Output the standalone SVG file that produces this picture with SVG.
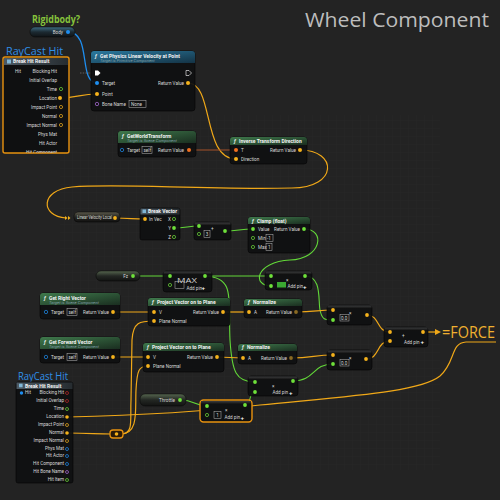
<svg xmlns="http://www.w3.org/2000/svg" width="500" height="500" viewBox="0 0 500 500">
<defs>
<style>
.n{fill:#0f1011;fill-opacity:.93;stroke:#050505;stroke-width:.6}
.sel{fill:#0f1011;stroke:#e8920f;stroke-width:1.4}
.t{font-family:"Roboto","Liberation Sans",sans-serif;font-size:4.6px;fill:#d8d8d8}
.h{font-family:"Roboto","Liberation Sans",sans-serif;font-size:5px;font-weight:bold;fill:#f4f4f4}
.s{font-family:"Roboto","Liberation Sans",sans-serif;font-size:4.2px;font-style:italic;fill:#7f9fa5}
.r{text-anchor:end}
.box{fill:none;stroke:#bbb;stroke-width:.5}
.wy{fill:none;stroke:#f0a818;stroke-width:1.2}
.wg{fill:none;stroke:#62d838;stroke-width:1.1}
.wb{fill:none;stroke:#1e8ef0;stroke-width:1.3}
.wo{fill:none;stroke:#a5522a;stroke-width:1.1}
.py{fill:#f5b21c}.pg{fill:#6ee03a}.pb{fill:#1e8ef0}.po{fill:#f07020}
.hy{fill:none;stroke:#f5b21c;stroke-width:.7}
.hg{fill:none;stroke:#6ee03a;stroke-width:.7}
.hb{fill:none;stroke:#1e8ef0;stroke-width:.7}
.hr{fill:none;stroke:#c02828;stroke-width:.7}
.hp{fill:none;stroke:#b070e0;stroke-width:.7}
.plus{font-family:"Liberation Sans",sans-serif;font-size:6px;font-weight:bold;fill:#fff}
</style>
<linearGradient id="gGreen" x1="0" y1="0" x2="1" y2="1"><stop offset="0" stop-color="#3f7a4c"/><stop offset="1" stop-color="#1a2e20"/></linearGradient>
<linearGradient id="gBlue" x1="0" y1="0" x2="1" y2="1"><stop offset="0" stop-color="#2b7aa0"/><stop offset="1" stop-color="#143345"/></linearGradient>
<linearGradient id="gGrey" x1="0" y1="0" x2="1" y2="0"><stop offset="0" stop-color="#4d5a64"/><stop offset="1" stop-color="#262c30"/></linearGradient>
<linearGradient id="gCompact" x1="0" y1="0" x2="0" y2="1"><stop offset="0" stop-color="#3c3d3e"/><stop offset="1" stop-color="#111"/></linearGradient>
<linearGradient id="gVarG" x1="0" y1="0" x2="0" y2="1"><stop offset="0" stop-color="#56664f"/><stop offset=".5" stop-color="#232723"/><stop offset="1" stop-color="#121312"/></linearGradient>
<linearGradient id="gVarB" x1="0" y1="0" x2="0" y2="1"><stop offset="0" stop-color="#3e6c82"/><stop offset=".5" stop-color="#1c2a32"/><stop offset="1" stop-color="#101315"/></linearGradient>
<linearGradient id="gVarY" x1="0" y1="0" x2="0" y2="1"><stop offset="0" stop-color="#5c5a4c"/><stop offset=".5" stop-color="#262520"/><stop offset="1" stop-color="#121212"/></linearGradient>
<pattern id="grid" width="8" height="8" patternUnits="userSpaceOnUse"><path d="M8 0H0V8" fill="none" stroke="#2c2c2c" stroke-width=".5"/></pattern>
<marker id="ah" viewBox="0 0 6 6" refX="3" refY="3" markerWidth="5" markerHeight="5" orient="auto"><path d="M0 0L6 3L0 6z" fill="#f0a818"/></marker>
<clipPath id="clipTop"><rect x="3" y="57" width="66" height="96"/></clipPath>
</defs>
<rect width="500" height="500" fill="#232323"/>
<rect x="60" y="115" width="380" height="355" fill="url(#grid)" opacity=".8"/>

<!-- titles -->
<text x="305" y="27" font-family="Open Sans, Noto Sans, sans-serif" font-size="20" fill="#bdbdbd" textLength="184" lengthAdjust="spacingAndGlyphs">Wheel Component</text>
<text x="32" y="23" font-family="Open Sans, Noto Sans, sans-serif" font-size="11" font-weight="bold" fill="#86c43c" textLength="48" lengthAdjust="spacingAndGlyphs">Rigidbody?</text>
<text x="6" y="55" font-family="Open Sans, Noto Sans, sans-serif" font-size="11.5" fill="#2f8ee6" textLength="57" lengthAdjust="spacingAndGlyphs">RayCast Hit</text>
<text x="18" y="380" font-family="Open Sans, Noto Sans, sans-serif" font-size="10.5" fill="#2f8ee6" textLength="50" lengthAdjust="spacingAndGlyphs">RayCast Hit</text>
<text x="442" y="338" font-family="Open Sans, Noto Sans, sans-serif" font-size="16" fill="#f0b030" textLength="53" lengthAdjust="spacingAndGlyphs">=FORCE</text>

<!-- connectors -->
<g id="connectors">
<path class="wb" d="M68,32 C92,32 78,83 97,83"/>
<path d="M80,73 L93,73" stroke="#888" stroke-width=".6" stroke-dasharray="1.5,1.2" fill="none"/>
<path class="wy" d="M60,98 C78,98 80,94 97,94"/>
<path class="wy" d="M188,83 C214,83 202,159 236,159"/>
<path class="wo" d="M189,150 L236,150"/>
<path class="wy" d="M300,150 C338,150 338,188 292,188 C200,190 120,183 72,187 C40,190 40,216 66,218"/>
<path class="wy" d="M115,218 C130,218 132,219 145,219"/>
<path class="wg" d="M174,228 C186,228 188,226 199,226"/>
<path class="wg" d="M225,231 C238,231 240,229 253,229"/>
<path class="wg" d="M304,229 C326,229 322,259 290,260 C255,262 252,286 271,286"/>
<path class="wg" d="M133,276 L170,276"/>
<path class="wg" d="M205,276 L271,276"/>
<path class="wg" d="M205,276 C236,277 228,300 230,340 C232,372 236,382 255,382"/>
<path class="wg" d="M305,276 C322,276 318,300 320,310 C322,320 325,320 333,320"/>
<path class="wg" d="M293,381 C315,381 312,364 333,364"/>
<path class="wg" d="M180,400 C195,400 195,406 207,406"/>
<path class="wg" d="M245,405 C252,405 248,392 255,392"/>
<path class="wy" d="M113,312 L154,312"/>
<path class="wy" d="M223,312 L249,312"/>
<path class="wy" d="M296,312 C315,312 318,310 333,310"/>
<path class="wy" d="M367,315 C380,315 376,332 390,332"/>
<path class="wy" d="M366,359 C380,359 376,341 390,341"/>
<path class="wy" d="M113,357 L148,357"/>
<path class="wy" d="M217,357 L243,358"/>
<path class="wy" d="M291,358 C312,358 315,355 333,355"/>
<path class="wy" d="M423,332 L438,332" marker-end="url(#ah)"/>
<path class="wy" d="M67,417 C150,415 200,412 260,405 C350,396 420,392 440,376 C456,362 450,343 466,342 L496,342"/>
<path class="wy" d="M67,433 C90,433 95,434 112,434"/>
<path class="wy" d="M121,434 C134,434 130,420 131,400 L132,340 C133,322 140,321 154,321"/>
<path class="wy" d="M121,434 C139,434 135,410 136,390 C137,370 139,366 148,366"/>
</g>

<!-- Body getter -->
<g id="body">
<rect x="30" y="27" width="45" height="10" rx="5" fill="url(#gVarB)" stroke="#050505" stroke-width=".5"/>
<text class="t r" x="63" y="33.6">Body</text>
<circle class="pb" cx="68" cy="32" r="2"/>
</g>

<!-- Break Hit Result top -->
<g id="breakHitTop">
<rect class="sel" x="3" y="57" width="66" height="96" rx="2"/>
<g clip-path="url(#clipTop)">
<rect x="4" y="58" width="64" height="7" fill="url(#gGrey)"/>
<rect x="7" y="59.5" width="4" height="4" fill="#7fb5d5"/>
<text class="h" x="13" y="63.4" font-size="4.6">Break Hit Result</text>
<text class="t" x="15" y="72.5">Hit</text>
<text class="t r" x="57" y="72.5">Blocking Hit</text>
<text class="t r" x="57" y="81.5">Initial Overlap</text>
<text class="t r" x="57" y="90.5">Time</text><circle class="hg" cx="61" cy="89" r="1.6"/>
<text class="t r" x="57" y="99.5">Location</text><circle class="py" cx="60" cy="98" r="2"/>
<text class="t r" x="57" y="108.5">Impact Point</text><circle class="hy" cx="61" cy="107" r="1.6"/>
<text class="t r" x="57" y="117.5">Normal</text><circle class="hy" cx="61" cy="116" r="1.6"/>
<text class="t r" x="57" y="126.5">Impact Normal</text><circle class="hy" cx="61" cy="125" r="1.6"/>
<text class="t r" x="57" y="135.5">Phys Mat</text>
<text class="t r" x="57" y="144.5">Hit Actor</text>
<text class="t r" x="57" y="154">Hit Component</text>
</g>
</g>

<!-- Get Physics Linear Velocity at Point -->
<g id="getPhysVel">
<rect class="n" x="91" y="51" width="104" height="60" rx="3"/>
<path d="M91,63 V54 a3,3 0 0 1 3,-3 H192 a3,3 0 0 1 3,3 V63 Z" fill="url(#gBlue)"/>
<text class="h" x="95" y="57.5" font-style="italic">ƒ</text>
<text class="h" x="100" y="57.5">Get Physics Linear Velocity at Point</text>
<text class="s" x="100" y="62">Target is Primitive Component</text>
<path d="M95,70.5 h3 l2.5,2.5 l-2.5,2.5 h-3 z" fill="#fff"/>
<path d="M186,70.5 h3 l2.5,2.5 l-2.5,2.5 h-3 z" fill="none" stroke="#fff" stroke-width=".6"/>
<circle class="pb" cx="97" cy="83" r="2"/><text class="t" x="102" y="84.6">Target</text>
<circle class="py" cx="97" cy="94" r="2"/><text class="t" x="102" y="95.6">Point</text>
<circle class="hp" cx="97" cy="104" r="1.7"/><text class="t" x="102" y="105.6">Bone Name</text>
<rect class="box" x="129" y="100.5" width="17" height="7"/><text class="t" x="131" y="105.6">None</text>
<text class="t r" x="184" y="84.6">Return Value</text><circle class="py" cx="188" cy="83" r="2"/>
</g>

<!-- GetWorldTransform -->
<g id="getWorldTransform">
<rect class="n" x="118" y="131" width="78" height="26" rx="3"/>
<path d="M118,143 V134 a3,3 0 0 1 3,-3 H193 a3,3 0 0 1 3,3 V143 Z" fill="url(#gGreen)"/>
<text class="h" x="122" y="137.5" font-style="italic">ƒ</text>
<text class="h" x="127" y="137.5">GetWorldTransform</text>
<text class="s" x="127" y="142">Target is Scene Component</text>
<circle class="hb" cx="122" cy="150" r="1.7"/><text class="t" x="127" y="151.6">Target</text>
<rect class="box" x="142" y="146.5" width="10" height="7"/><text class="t" x="143.5" y="151.6">self</text>
<text class="t r" x="184" y="151.6">Return Value</text><circle class="po" cx="189" cy="150" r="2"/>
</g>

<!-- Inverse Transform Direction -->
<g id="invTransformDir">
<rect class="n" x="230" y="137" width="77" height="27" rx="3"/>
<path d="M230,145 V140 a3,3 0 0 1 3,-3 H304 a3,3 0 0 1 3,3 V145 Z" fill="url(#gGreen)"/>
<text class="h" x="234" y="142.8" font-style="italic">ƒ</text>
<text class="h" x="239" y="142.8" font-size="4.6">Inverse Transform Direction</text>
<circle class="po" cx="236" cy="150" r="2"/><text class="t" x="241" y="151.6">T</text>
<circle class="py" cx="236" cy="159" r="2"/><text class="t" x="241" y="160.6">Direction</text>
<text class="t r" x="296" y="151.6">Return Value</text><circle class="py" cx="300" cy="150" r="2"/>
</g>

<!-- Linear Velocity Local -->
<g id="linVelLocal">
<rect x="74" y="212" width="46" height="10" rx="4" fill="url(#gVarY)" stroke="#050505" stroke-width=".5"/>
<path d="M65,216 l2.5,2 l-2.5,2 z M68,216 l2.5,2 l-2.5,2 z" fill="#f5b21c"/>
<text class="t" x="77" y="219.3" font-size="4" textLength="35" lengthAdjust="spacingAndGlyphs">Linear Velocity Local</text>
<circle class="py" cx="115" cy="218" r="1.9"/>
</g>

<!-- Break Vector -->
<g id="breakVector">
<rect class="n" x="140" y="208" width="40" height="32" rx="2"/>
<rect x="140.5" y="208.5" width="39" height="6" fill="url(#gGrey)"/>
<rect x="142.5" y="209.5" width="3.5" height="3.5" fill="#7fb5d5"/>
<text class="h" x="148" y="213" font-size="4.2">Break Vector</text>
<circle class="py" cx="145" cy="219" r="1.9"/><text class="t" x="149" y="220.5">In Vec</text>
<text class="t r" x="171" y="220.5">X</text><circle class="hg" cx="174" cy="219" r="1.6"/>
<text class="t r" x="171" y="229.5">Y</text><circle class="pg" cx="174" cy="228" r="1.9"/>
<text class="t r" x="171" y="238.5">Z</text><circle class="hg" cx="174" cy="237" r="1.6"/>
</g>

<!-- Multiply float (Y) -->
<g id="mulY">
<rect class="n" x="194" y="222" width="37" height="18" rx="2.5"/>
<rect x="194.5" y="222.5" width="36" height="3" fill="url(#gCompact)"/>
<circle class="pg" cx="199" cy="226" r="1.9"/>
<circle class="hg" cx="199" cy="234" r="1.6"/>
<rect class="box" x="204" y="230.5" width="6" height="7"/><text class="t" x="205.8" y="235.6">3</text>
<text class="t" x="211" y="230" font-size="5">+</text>
<circle class="pg" cx="225" cy="231" r="1.9"/>
</g>

<!-- Clamp -->
<g id="clamp">
<rect class="n" x="248" y="217" width="62" height="36" rx="3"/>
<path d="M248,224 V220 a3,3 0 0 1 3,-3 H307 a3,3 0 0 1 3,3 V224 Z" fill="url(#gGreen)"/>
<text class="h" x="252" y="222.5" font-size="4.5" font-style="italic">ƒ</text>
<text class="h" x="257" y="222.5" font-size="4.5">Clamp (float)</text>
<circle class="pg" cx="253" cy="229" r="1.9"/><text class="t" x="258" y="230.6">Value</text>
<circle class="hg" cx="253" cy="238" r="1.6"/><text class="t" x="258" y="239.6">Min</text>
<rect class="box" x="266" y="234.5" width="7" height="7"/><text class="t" x="267" y="239.6">-1</text>
<circle class="hg" cx="253" cy="247" r="1.6"/><text class="t" x="258" y="248.6">Max</text>
<rect class="box" x="266" y="243.5" width="6" height="7"/><text class="t" x="268" y="248.6">1</text>
<text class="t r" x="300" y="230.6">Return Value</text><circle class="pg" cx="304" cy="229" r="1.9"/>
</g>

<!-- Fz -->
<g id="fz">
<rect x="96" y="271" width="44" height="10" rx="5" fill="url(#gVarG)" stroke="#050505" stroke-width=".5"/>
<text class="t r" x="128" y="277.6">Fz</text>
<circle class="pg" cx="133" cy="276" r="1.9"/>
</g>

<!-- MAX -->
<g id="max">
<rect class="n" x="163" y="271" width="49" height="21" rx="3"/>
<rect x="163.5" y="271.5" width="48" height="3" fill="url(#gCompact)"/>
<circle class="pg" cx="170" cy="276" r="1.9"/>
<circle class="hg" cx="170" cy="285" r="1.6"/>
<rect class="box" x="175" y="281.5" width="9" height="7"/>
<text x="177" y="283" font-family="Open Sans, Liberation Sans, sans-serif" font-size="8" fill="#d0d0d0" textLength="20" lengthAdjust="spacingAndGlyphs">MAX</text>
<text class="t" x="186.5" y="290" font-size="4">Add pin</text>
<text class="plus" x="201.5" y="290">+</text>
<circle class="pg" cx="205" cy="276" r="1.9"/>
</g>

<!-- Multiply Fz*clamp -->
<g id="mulFz">
<rect class="n" x="265" y="271" width="47" height="19" rx="3"/>
<rect x="265.5" y="271.5" width="46" height="3" fill="url(#gCompact)"/>
<circle class="pg" cx="271" cy="276" r="1.9"/>
<circle class="pg" cx="271" cy="286" r="1.9"/>
<rect x="277" y="282" width="9" height="5.5" fill="#3aa832"/>
<text class="t" x="286" y="282" font-size="5">×</text>
<text class="t" x="287.5" y="288.2" font-size="4">Add pin</text>
<text class="plus" x="303" y="289">+</text>
<circle class="pg" cx="305" cy="276" r="1.9"/>
</g>

<!-- Get Right Vector -->
<g id="getRightVector">
<rect class="n" x="40" y="293" width="80" height="26" rx="3"/>
<path d="M40,305 V296 a3,3 0 0 1 3,-3 H117 a3,3 0 0 1 3,3 V305 Z" fill="url(#gGreen)"/>
<text class="h" x="44" y="299.5" font-style="italic">ƒ</text>
<text class="h" x="49" y="299.5">Get Right Vector</text>
<text class="s" x="49" y="304" fill="#55806a">Target is Scene Component</text>
<circle class="hb" cx="46" cy="312" r="1.7"/><text class="t" x="51" y="313.6">Target</text>
<rect class="box" x="67" y="308.5" width="10" height="7"/><text class="t" x="68.5" y="313.6">self</text>
<text class="t r" x="109" y="313.6">Return Value</text><circle class="py" cx="113" cy="312" r="1.9"/>
</g>

<!-- Project Vector top -->
<g id="projectTop">
<rect class="n" x="148" y="298" width="82" height="28" rx="3"/>
<path d="M148,306 V301 a3,3 0 0 1 3,-3 H227 a3,3 0 0 1 3,3 V306 Z" fill="url(#gGreen)"/>
<text class="h" x="152" y="303.8" font-style="italic">ƒ</text>
<text class="h" x="157" y="303.8" font-size="4.7">Project Vector on to Plane</text>
<circle class="py" cx="154" cy="312" r="1.9"/><text class="t" x="159" y="313.6">V</text>
<circle class="py" cx="154" cy="321" r="1.9"/><text class="t" x="159" y="322.6">Plane Normal</text>
<text class="t r" x="219" y="313.6">Return Value</text><circle class="py" cx="223" cy="312" r="1.9"/>
</g>

<!-- Normalize top -->
<g id="normalizeTop">
<rect class="n" x="244" y="299" width="58" height="19" rx="3"/>
<path d="M244,306 V302 a3,3 0 0 1 3,-3 H299 a3,3 0 0 1 3,3 V306 Z" fill="url(#gGreen)"/>
<text class="h" x="248" y="304.3" font-style="italic">ƒ</text>
<text class="h" x="253" y="304.3" font-size="4.7">Normalize</text>
<circle class="py" cx="249" cy="312" r="1.9"/><text class="t" x="254" y="313.6">A</text>
<text class="t r" x="292" y="313.6">Return Value</text><circle cx="296" cy="312" r="1.9" fill="#8a6a22"/>
</g>

<!-- Multiply vec top -->
<g id="mulVecTop">
<rect class="n" x="327" y="305" width="45" height="20" rx="3"/>
<rect x="327.5" y="305.5" width="44" height="3" fill="url(#gCompact)"/>
<circle class="py" cx="333" cy="310" r="1.9"/>
<circle class="pg" cx="333" cy="320" r="1.9"/>
<rect class="box" x="340" y="314.5" width="9" height="6.5"/><text class="t" x="341" y="319.5" font-size="4">0.0</text>
<text class="t" x="349" y="315" font-size="5">×</text>
<circle class="py" cx="367" cy="315" r="1.9"/>
</g>

<!-- Add -->
<g id="add">
<rect class="n" x="384" y="327" width="44" height="20" rx="3"/>
<rect x="384.5" y="327.5" width="43" height="3" fill="url(#gCompact)"/>
<circle class="py" cx="390" cy="332" r="1.9"/>
<circle class="py" cx="390" cy="341" r="1.9"/>
<text class="t" x="402" y="337" font-size="6">+</text>
<text class="t" x="404" y="343.6" font-size="4">Add pin</text>
<text class="plus" x="420.5" y="344">+</text>
<circle class="py" cx="423" cy="332" r="1.9"/>
</g>

<!-- Get Forward Vector -->
<g id="getForwardVector">
<rect class="n" x="40" y="337" width="80" height="26" rx="3"/>
<path d="M40,349 V340 a3,3 0 0 1 3,-3 H117 a3,3 0 0 1 3,3 V349 Z" fill="url(#gGreen)"/>
<text class="h" x="44" y="343.5" font-style="italic">ƒ</text>
<text class="h" x="49" y="343.5">Get Forward Vector</text>
<text class="s" x="49" y="348" fill="#55806a">Target is Scene Component</text>
<circle class="hb" cx="46" cy="357" r="1.7"/><text class="t" x="51" y="358.6">Target</text>
<rect class="box" x="67" y="353.5" width="10" height="7"/><text class="t" x="68.5" y="358.6">self</text>
<text class="t r" x="109" y="358.6">Return Value</text><circle class="py" cx="113" cy="357" r="1.9"/>
</g>

<!-- Project Vector bottom -->
<g id="projectBottom">
<rect class="n" x="143" y="343" width="81" height="29" rx="3"/>
<path d="M143,351 V346 a3,3 0 0 1 3,-3 H221 a3,3 0 0 1 3,3 V351 Z" fill="url(#gGreen)"/>
<text class="h" x="147" y="348.8" font-style="italic">ƒ</text>
<text class="h" x="152" y="348.8" font-size="4.7">Project Vector on to Plane</text>
<circle class="py" cx="148" cy="357" r="1.9"/><text class="t" x="153" y="358.6">V</text>
<circle class="py" cx="148" cy="366" r="1.9"/><text class="t" x="153" y="367.6">Plane Normal</text>
<text class="t r" x="213" y="358.6">Return Value</text><circle class="py" cx="217" cy="357" r="1.9"/>
</g>

<!-- Normalize bottom -->
<g id="normalizeBottom">
<rect class="n" x="238" y="344" width="59" height="20" rx="3"/>
<path d="M238,351 V347 a3,3 0 0 1 3,-3 H294 a3,3 0 0 1 3,3 V351 Z" fill="url(#gGreen)"/>
<text class="h" x="242" y="349.3" font-style="italic">ƒ</text>
<text class="h" x="247" y="349.3" font-size="4.7">Normalize</text>
<circle class="py" cx="243" cy="358" r="1.9"/><text class="t" x="248" y="359.6">A</text>
<text class="t r" x="287" y="359.6">Return Value</text><circle cx="291" cy="358" r="1.9" fill="#8a6a22"/>
</g>

<!-- Multiply vec bottom -->
<g id="mulVecBottom">
<rect class="n" x="327" y="350" width="45" height="20" rx="3"/>
<rect x="327.5" y="350.5" width="44" height="3" fill="url(#gCompact)"/>
<circle class="py" cx="333" cy="355" r="1.9"/>
<circle class="pg" cx="333" cy="364" r="1.9"/>
<rect class="box" x="340" y="359.5" width="9" height="6.5"/><text class="t" x="341" y="364.5" font-size="4">0.0</text>
<text class="t" x="349" y="360" font-size="5">×</text>
<circle class="py" cx="366" cy="359" r="1.9"/>
</g>

<!-- Multiply MAX*throttle -->
<g id="mulThrottleMax">
<rect class="n" x="248" y="376" width="50" height="20" rx="3"/>
<rect x="248.5" y="376.5" width="49" height="3" fill="url(#gCompact)"/>
<circle class="pg" cx="255" cy="382" r="1.9"/>
<circle class="pg" cx="255" cy="392" r="1.9"/>
<text class="t" x="272" y="388" font-size="5">×</text>
<text class="t" x="272.5" y="394.4" font-size="4">Add pin</text>
<text class="plus" x="289" y="395">+</text>
<circle class="pg" cx="293" cy="381" r="1.9"/>
</g>

<!-- Throttle -->
<g id="throttle">
<rect x="140" y="394" width="46" height="12" rx="5" fill="url(#gVarG)" stroke="#050505" stroke-width=".5"/>
<text class="t r" x="175" y="401.6">Throttle</text>
<circle class="pg" cx="180" cy="400" r="1.9"/>
</g>

<!-- Multiply throttle (selected) -->
<g id="mulThrottle">
<rect class="sel" x="200" y="400" width="52" height="22" rx="3.5"/>
<rect x="201" y="401" width="50" height="3" fill="url(#gCompact)"/>
<circle class="pg" cx="207" cy="406" r="1.9"/>
<circle class="hg" cx="207" cy="415" r="1.6"/>
<rect class="box" x="214" y="411.5" width="7" height="7"/><text class="t" x="216.3" y="416.6">1</text>
<text class="t" x="225" y="412" font-size="5">×</text>
<text class="t" x="224.5" y="419" font-size="4">Add pin</text>
<text class="plus" x="240.5" y="419.5">+</text>
<circle class="pg" cx="245" cy="405" r="1.9"/>
</g>

<!-- Break Hit Result bottom -->
<g id="breakHitBottom">
<rect class="n" x="16" y="382" width="57" height="101" rx="2"/>
<rect x="16.5" y="382.5" width="56" height="6.5" fill="url(#gGrey)"/>
<rect x="19" y="383.7" width="3.6" height="3.6" fill="#7fb5d5"/>
<text class="h" x="25" y="387.6" font-size="4.2">Break Hit Result</text>
<circle class="pb" cx="21.5" cy="393" r="1.7"/><text class="t" x="25" y="394.4" font-size="4.2">Hit</text>
<text class="t r" x="64" y="394.4" font-size="4.2">Blocking Hit</text><circle class="hr" cx="67" cy="393" r="1.5"/>
<text class="t r" x="64" y="402.4" font-size="4.2">Initial Overlap</text><circle class="hr" cx="67" cy="401" r="1.5"/>
<text class="t r" x="64" y="410.4" font-size="4.2">Time</text><circle class="hg" cx="67" cy="409" r="1.5"/>
<text class="t r" x="64" y="418.4" font-size="4.2">Location</text><circle class="py" cx="67" cy="417" r="1.8"/>
<text class="t r" x="64" y="426.4" font-size="4.2">Impact Point</text><circle class="hy" cx="67" cy="425" r="1.5"/>
<text class="t r" x="64" y="434.4" font-size="4.2">Normal</text><circle class="py" cx="67" cy="433" r="1.8"/>
<text class="t r" x="64" y="442.4" font-size="4.2">Impact Normal</text><circle class="hy" cx="67" cy="441" r="1.5"/>
<text class="t r" x="64" y="450.4" font-size="4.2">Phys Mat</text><circle class="hb" cx="67" cy="449" r="1.5"/>
<text class="t r" x="64" y="457.4" font-size="4.2">Hit Actor</text><circle class="hb" cx="67" cy="456" r="1.5"/>
<text class="t r" x="64" y="465.4" font-size="4.2">Hit Component</text><circle class="hb" cx="67" cy="464" r="1.5"/>
<text class="t r" x="64" y="473.4" font-size="4.2">Hit Bone Name</text><circle class="hp" cx="67" cy="472" r="1.5"/>
<text class="t r" x="64" y="481.4" font-size="4.2" fill="#999">Hit Item</text><circle class="hg" cx="67" cy="480" r="1.5"/>
</g>

<!-- Reroute knot -->
<g id="reroute">
<rect x="110" y="430" width="13" height="8" rx="3" fill="#2a1a08" stroke="#e8920f" stroke-width="1.3"/>
<circle class="py" cx="116.5" cy="434" r="1.8"/>
</g>
</svg>
